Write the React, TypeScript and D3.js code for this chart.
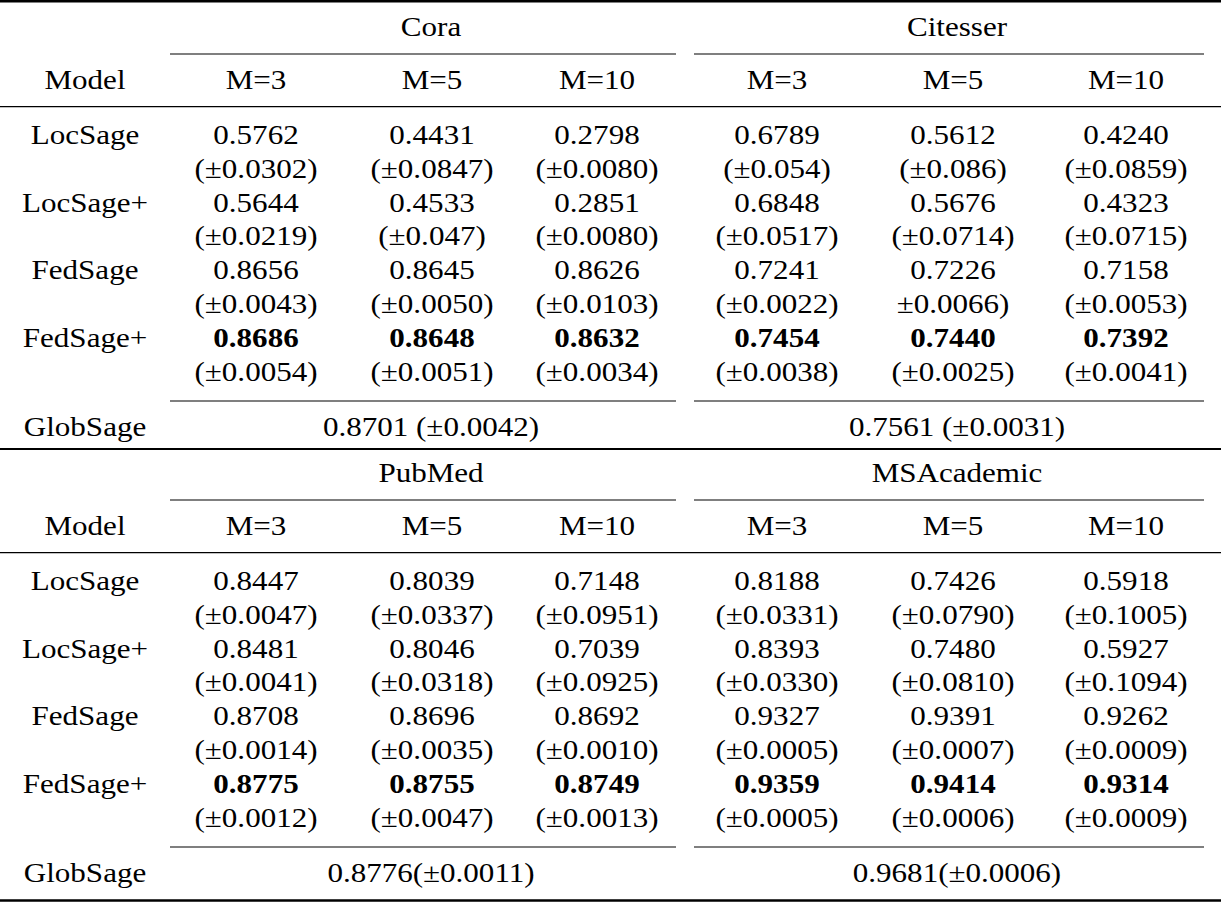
import React from "react";
import * as d3 from "d3";

const W = 1224;
const H = 905;

const models = ["LocSage", "LocSage+", "FedSage", "FedSage+"];
const mLabels = ["M=3", "M=5", "M=10"];
const datasetsTop = ["Cora", "Citesser"];
const datasetsBottom = ["PubMed", "MSAcademic"];

const coraMean = [
  [0.5762, 0.4431, 0.2798],
  [0.5644, 0.4533, 0.2851],
  [0.8656, 0.8645, 0.8626],
  [0.8686, 0.8648, 0.8632],
];
const coraStd = [
  ["(±0.0302)", "(±0.0847)", "(±0.0080)"],
  ["(±0.0219)", "(±0.047)", "(±0.0080)"],
  ["(±0.0043)", "(±0.0050)", "(±0.0103)"],
  ["(±0.0054)", "(±0.0051)", "(±0.0034)"],
];
const citeMean = [
  [0.6789, 0.5612, 0.424],
  [0.6848, 0.5676, 0.4323],
  [0.7241, 0.7226, 0.7158],
  [0.7454, 0.744, 0.7392],
];
const citeStd = [
  ["(±0.054)", "(±0.086)", "(±0.0859)"],
  ["(±0.0517)", "(±0.0714)", "(±0.0715)"],
  ["(±0.0022)", "±0.0066)", "(±0.0053)"],
  ["(±0.0038)", "(±0.0025)", "(±0.0041)"],
];
const pubMean = [
  [0.8447, 0.8039, 0.7148],
  [0.8481, 0.8046, 0.7039],
  [0.8708, 0.8696, 0.8692],
  [0.8775, 0.8755, 0.8749],
];
const pubStd = [
  ["(±0.0047)", "(±0.0337)", "(±0.0951)"],
  ["(±0.0041)", "(±0.0318)", "(±0.0925)"],
  ["(±0.0014)", "(±0.0035)", "(±0.0010)"],
  ["(±0.0012)", "(±0.0047)", "(±0.0013)"],
];
const msaMean = [
  [0.8188, 0.7426, 0.5918],
  [0.8393, 0.748, 0.5927],
  [0.9327, 0.9391, 0.9262],
  [0.9359, 0.9414, 0.9314],
];
const msaStd = [
  ["(±0.0331)", "(±0.0790)", "(±0.1005)"],
  ["(±0.0330)", "(±0.0810)", "(±0.1094)"],
  ["(±0.0005)", "(±0.0007)", "(±0.0009)"],
  ["(±0.0005)", "(±0.0006)", "(±0.0009)"],
];
const globTop = ["0.8701 (±0.0042)", "0.7561 (±0.0031)"];
const globBottom = ["0.8776(±0.0011)", "0.9681(±0.0006)"];
const boldRow = "FedSage+";

const fmt = d3.format(".4f");
const FONT = "'Liberation Serif', 'Times New Roman', serif";
const FS = 27;
const SX = 1.15;

// column centers
const colKeys = ["model", "a0", "a1", "a2", "b0", "b1", "b2"];
const xCol = d3.scaleOrdinal<string, number>().domain(colKeys).range([85, 256, 432, 597, 777, 953, 1126]);
const xGroup = d3.scaleOrdinal<string, number>().domain(["a", "b"]).range([431, 957]);
const groupSpan: Record<string, [number, number]> = { a: [170, 676], b: [694, 1204] };

// vertical layout: line index -> baseline
const yData = d3.scaleLinear().domain([0, 1]).range([144, 177.8]);

function T({ x, y, children, bold }: { x: number; y: number; children: React.ReactNode; bold?: boolean }) {
  return (
    <text
      transform={`translate(${x},${y}) scale(${SX},1)`}
      textAnchor="middle"
      fontFamily={FONT}
      fontSize={FS}
      fontWeight={bold ? "bold" : "normal"}
      fill="#000"
    >
      {children}
    </text>
  );
}

function Rule({ x1, x2, y, w }: { x1: number; x2: number; y: number; w: number }) {
  return <line x1={x1} x2={x2} y1={y} y2={y} stroke="#000" strokeWidth={w} />;
}

function Block({
  off,
  names,
  means,
  stds,
  glob,
}: {
  off: number;
  names: string[];
  means: number[][][];
  stds: string[][][];
  glob: string[];
}) {
  const groups = ["a", "b"];
  return (
    <g transform={`translate(0,${off})`}>
      {names.map((n, gi) => (
        <T key={n} x={xGroup(groups[gi])} y={36}>
          {n}
        </T>
      ))}
      {groups.map((g) => (
        <Rule key={"c1" + g} x1={groupSpan[g][0]} x2={groupSpan[g][1]} y={54} w={1.2} />
      ))}
      <T x={xCol("model")} y={88.5}>
        Model
      </T>
      {groups.map((g) =>
        mLabels.map((m, j) => (
          <T key={g + m} x={xCol(g + j)} y={88.5}>
            {m}
          </T>
        ))
      )}
      <Rule x1={0} x2={1221} y={106.7} w={1.3} />
      {models.map((mdl, i) => (
        <g key={mdl}>
          <T x={xCol("model")} y={yData(i * 2)}>
            {mdl}
          </T>
          {groups.map((g, gi) =>
            mLabels.map((_, j) => (
              <g key={g + j}>
                <T x={xCol(g + j)} y={yData(i * 2)} bold={mdl === boldRow}>
                  {fmt(means[gi][i][j])}
                </T>
                <T x={xCol(g + j)} y={yData(i * 2 + 1)}>
                  {stds[gi][i][j]}
                </T>
              </g>
            ))
          )}
        </g>
      ))}
      {groups.map((g) => (
        <Rule key={"c2" + g} x1={groupSpan[g][0]} x2={groupSpan[g][1]} y={401} w={1.2} />
      ))}
      <T x={xCol("model")} y={436}>
        GlobSage
      </T>
      {groups.map((g, gi) => (
        <T key={"gl" + g} x={xGroup(g)} y={436}>
          {glob[gi]}
        </T>
      ))}
    </g>
  );
}

export default function App() {
  return (
    <div style={{ position: "absolute", left: 0, top: 0, background: "#fff" }}>
      <svg width={W} height={H} viewBox={`0 0 ${W} ${H}`} style={{ display: "block" }}>
        <rect width={W} height={H} fill="#fff" />
        <Rule x1={0} x2={1221} y={1.3} w={2.6} />
        <Block off={0} names={datasetsTop} means={[coraMean, citeMean]} stds={[coraStd, citeStd]} glob={globTop} />
        <Rule x1={0} x2={1221} y={449} w={2.2} />
        <Block off={446} names={datasetsBottom} means={[pubMean, msaMean]} stds={[pubStd, msaStd]} glob={globBottom} />
        <Rule x1={0} x2={1221} y={900.5} w={2.7} />
      </svg>
    </div>
  );
}
